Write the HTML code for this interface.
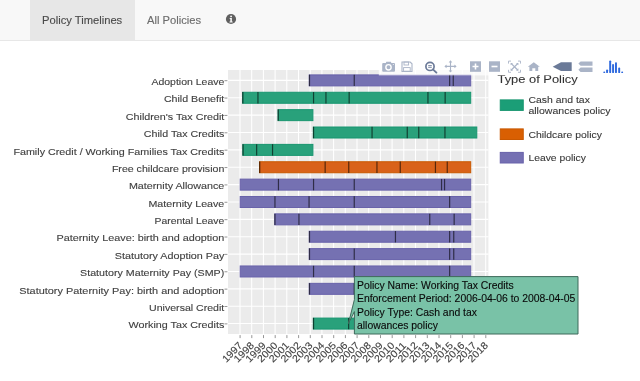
<!DOCTYPE html>
<html><head><meta charset="utf-8">
<style>
html,body{margin:0;padding:0;}
svg,.nav{will-change:transform;}
body{width:640px;height:381px;overflow:hidden;position:relative;background:#fff;font-family:"Liberation Sans",sans-serif;}
.nav{position:absolute;left:0;top:0;width:640px;height:40px;background:#f8f8f8;border-bottom:1px solid #e7e7e7;}
.tab{position:absolute;top:0;height:40px;line-height:40px;font-size:11.2px;color:#6c6c6c;white-space:nowrap;-webkit-text-stroke:0.12px #6c6c6c;}
.tab.active{background:#e7e7e7;color:#4a4a4a;-webkit-text-stroke:0.12px #4a4a4a;}
svg text{font-family:"Liberation Sans",sans-serif;}
.ax{font-size:9.8px;fill:#404040;stroke:#404040;stroke-width:0.12px;}
.lg{font-size:9.7px;fill:#383838;stroke:#383838;stroke-width:0.1px;}
.lt{font-size:11.6px;fill:#333;stroke:#333;stroke-width:0.08px;}
.ht{font-size:10.4px;fill:#0a0a0a;stroke:#0a0a0a;stroke-width:0.12px;}
</style></head><body>
<div class="nav">
  <div class="tab active" style="left:30px;width:105px;"><span style="position:absolute;left:12px;top:0;">Policy Timelines</span></div>
  <div class="tab" style="left:135px;width:78px;"><span style="position:absolute;left:12px;top:0;">All Policies</span></div>
  <div class="tab" style="left:213px;width:36px;">
    <svg width="12" height="12" viewBox="0 0 12 12" style="position:absolute;left:11.7px;top:12.7px">
      <circle cx="6" cy="6" r="5.1" fill="#606060"/>
      <circle cx="6.1" cy="3.4" r="0.95" fill="#f8f8f8"/>
      <path d="M4.7 5h2.2v3.4h0.8v1H4.5v-1h0.8V6H4.7z" fill="#f8f8f8"/>
    </svg>
  </div>
</div>
<svg width="640" height="381" style="position:absolute;left:0;top:0">
<rect x="228.0" y="70.0" width="260.40" height="264.0" fill="#ebebeb"/>
<line x1="240.00" y1="70.0" x2="240.00" y2="334.0" stroke="#fff" stroke-width="1.07"/>
<line x1="251.70" y1="70.0" x2="251.70" y2="334.0" stroke="#fff" stroke-width="1.07"/>
<line x1="263.40" y1="70.0" x2="263.40" y2="334.0" stroke="#fff" stroke-width="1.07"/>
<line x1="275.10" y1="70.0" x2="275.10" y2="334.0" stroke="#fff" stroke-width="1.07"/>
<line x1="286.80" y1="70.0" x2="286.80" y2="334.0" stroke="#fff" stroke-width="1.07"/>
<line x1="298.50" y1="70.0" x2="298.50" y2="334.0" stroke="#fff" stroke-width="1.07"/>
<line x1="310.20" y1="70.0" x2="310.20" y2="334.0" stroke="#fff" stroke-width="1.07"/>
<line x1="321.90" y1="70.0" x2="321.90" y2="334.0" stroke="#fff" stroke-width="1.07"/>
<line x1="333.60" y1="70.0" x2="333.60" y2="334.0" stroke="#fff" stroke-width="1.07"/>
<line x1="345.30" y1="70.0" x2="345.30" y2="334.0" stroke="#fff" stroke-width="1.07"/>
<line x1="357.00" y1="70.0" x2="357.00" y2="334.0" stroke="#fff" stroke-width="1.07"/>
<line x1="368.70" y1="70.0" x2="368.70" y2="334.0" stroke="#fff" stroke-width="1.07"/>
<line x1="380.40" y1="70.0" x2="380.40" y2="334.0" stroke="#fff" stroke-width="1.07"/>
<line x1="392.10" y1="70.0" x2="392.10" y2="334.0" stroke="#fff" stroke-width="1.07"/>
<line x1="403.80" y1="70.0" x2="403.80" y2="334.0" stroke="#fff" stroke-width="1.07"/>
<line x1="415.50" y1="70.0" x2="415.50" y2="334.0" stroke="#fff" stroke-width="1.07"/>
<line x1="427.20" y1="70.0" x2="427.20" y2="334.0" stroke="#fff" stroke-width="1.07"/>
<line x1="438.90" y1="70.0" x2="438.90" y2="334.0" stroke="#fff" stroke-width="1.07"/>
<line x1="450.60" y1="70.0" x2="450.60" y2="334.0" stroke="#fff" stroke-width="1.07"/>
<line x1="462.30" y1="70.0" x2="462.30" y2="334.0" stroke="#fff" stroke-width="1.07"/>
<line x1="474.00" y1="70.0" x2="474.00" y2="334.0" stroke="#fff" stroke-width="1.07"/>
<line x1="485.70" y1="70.0" x2="485.70" y2="334.0" stroke="#fff" stroke-width="1.07"/>
<line x1="228.0" y1="80.40" x2="488.4" y2="80.40" stroke="#fff" stroke-width="1.07"/>
<line x1="228.0" y1="97.77" x2="488.4" y2="97.77" stroke="#fff" stroke-width="1.07"/>
<line x1="228.0" y1="115.14" x2="488.4" y2="115.14" stroke="#fff" stroke-width="1.07"/>
<line x1="228.0" y1="132.51" x2="488.4" y2="132.51" stroke="#fff" stroke-width="1.07"/>
<line x1="228.0" y1="149.88" x2="488.4" y2="149.88" stroke="#fff" stroke-width="1.07"/>
<line x1="228.0" y1="167.25" x2="488.4" y2="167.25" stroke="#fff" stroke-width="1.07"/>
<line x1="228.0" y1="184.62" x2="488.4" y2="184.62" stroke="#fff" stroke-width="1.07"/>
<line x1="228.0" y1="201.99" x2="488.4" y2="201.99" stroke="#fff" stroke-width="1.07"/>
<line x1="228.0" y1="219.36" x2="488.4" y2="219.36" stroke="#fff" stroke-width="1.07"/>
<line x1="228.0" y1="236.73" x2="488.4" y2="236.73" stroke="#fff" stroke-width="1.07"/>
<line x1="228.0" y1="254.10" x2="488.4" y2="254.10" stroke="#fff" stroke-width="1.07"/>
<line x1="228.0" y1="271.47" x2="488.4" y2="271.47" stroke="#fff" stroke-width="1.07"/>
<line x1="228.0" y1="288.84" x2="488.4" y2="288.84" stroke="#fff" stroke-width="1.07"/>
<line x1="228.0" y1="306.21" x2="488.4" y2="306.21" stroke="#fff" stroke-width="1.07"/>
<line x1="228.0" y1="323.58" x2="488.4" y2="323.58" stroke="#fff" stroke-width="1.07"/>
<rect x="309.25" y="74.90" width="161.45" height="11.00" fill="#7571b2" stroke="#6862aa" stroke-width="1"/>
<line x1="309.50" y1="74.70" x2="309.50" y2="86.10" stroke="rgba(0,0,0,0.6)" stroke-width="1.2"/>
<line x1="354.25" y1="74.70" x2="354.25" y2="86.10" stroke="rgba(0,0,0,0.6)" stroke-width="1.2"/>
<line x1="449.65" y1="74.70" x2="449.65" y2="86.10" stroke="rgba(0,0,0,0.6)" stroke-width="1.2"/>
<line x1="453.25" y1="74.70" x2="453.25" y2="86.10" stroke="rgba(0,0,0,0.6)" stroke-width="1.2"/>
<rect x="242.60" y="92.27" width="228.10" height="11.00" fill="#29a17b" stroke="#189670" stroke-width="1"/>
<line x1="242.85" y1="92.07" x2="242.85" y2="103.47" stroke="rgba(0,0,0,0.6)" stroke-width="1.2"/>
<line x1="257.95" y1="92.07" x2="257.95" y2="103.47" stroke="rgba(0,0,0,0.6)" stroke-width="1.2"/>
<line x1="313.55" y1="92.07" x2="313.55" y2="103.47" stroke="rgba(0,0,0,0.6)" stroke-width="1.2"/>
<line x1="325.95" y1="92.07" x2="325.95" y2="103.47" stroke="rgba(0,0,0,0.6)" stroke-width="1.2"/>
<line x1="349.15" y1="92.07" x2="349.15" y2="103.47" stroke="rgba(0,0,0,0.6)" stroke-width="1.2"/>
<line x1="427.95" y1="92.07" x2="427.95" y2="103.47" stroke="rgba(0,0,0,0.6)" stroke-width="1.2"/>
<line x1="445.15" y1="92.07" x2="445.15" y2="103.47" stroke="rgba(0,0,0,0.6)" stroke-width="1.2"/>
<rect x="278.00" y="109.64" width="34.90" height="11.00" fill="#29a17b" stroke="#189670" stroke-width="1"/>
<line x1="278.25" y1="109.44" x2="278.25" y2="120.84" stroke="rgba(0,0,0,0.6)" stroke-width="1.2"/>
<rect x="313.30" y="127.01" width="163.50" height="11.00" fill="#29a17b" stroke="#189670" stroke-width="1"/>
<line x1="313.55" y1="126.81" x2="313.55" y2="138.21" stroke="rgba(0,0,0,0.6)" stroke-width="1.2"/>
<line x1="372.05" y1="126.81" x2="372.05" y2="138.21" stroke="rgba(0,0,0,0.6)" stroke-width="1.2"/>
<line x1="407.25" y1="126.81" x2="407.25" y2="138.21" stroke="rgba(0,0,0,0.6)" stroke-width="1.2"/>
<line x1="418.75" y1="126.81" x2="418.75" y2="138.21" stroke="rgba(0,0,0,0.6)" stroke-width="1.2"/>
<line x1="444.95" y1="126.81" x2="444.95" y2="138.21" stroke="rgba(0,0,0,0.6)" stroke-width="1.2"/>
<rect x="242.80" y="144.38" width="70.10" height="11.00" fill="#29a17b" stroke="#189670" stroke-width="1"/>
<line x1="243.05" y1="144.18" x2="243.05" y2="155.58" stroke="rgba(0,0,0,0.6)" stroke-width="1.2"/>
<line x1="256.65" y1="144.18" x2="256.65" y2="155.58" stroke="rgba(0,0,0,0.6)" stroke-width="1.2"/>
<line x1="272.55" y1="144.18" x2="272.55" y2="155.58" stroke="rgba(0,0,0,0.6)" stroke-width="1.2"/>
<rect x="259.50" y="161.75" width="211.20" height="11.00" fill="#d9621a" stroke="#c95800" stroke-width="1"/>
<line x1="259.75" y1="161.55" x2="259.75" y2="172.95" stroke="rgba(0,0,0,0.6)" stroke-width="1.2"/>
<line x1="325.15" y1="161.55" x2="325.15" y2="172.95" stroke="rgba(0,0,0,0.6)" stroke-width="1.2"/>
<line x1="348.75" y1="161.55" x2="348.75" y2="172.95" stroke="rgba(0,0,0,0.6)" stroke-width="1.2"/>
<line x1="376.95" y1="161.55" x2="376.95" y2="172.95" stroke="rgba(0,0,0,0.6)" stroke-width="1.2"/>
<line x1="400.25" y1="161.55" x2="400.25" y2="172.95" stroke="rgba(0,0,0,0.6)" stroke-width="1.2"/>
<line x1="435.45" y1="161.55" x2="435.45" y2="172.95" stroke="rgba(0,0,0,0.6)" stroke-width="1.2"/>
<line x1="447.25" y1="161.55" x2="447.25" y2="172.95" stroke="rgba(0,0,0,0.6)" stroke-width="1.2"/>
<rect x="240.20" y="179.12" width="230.50" height="11.00" fill="#7571b2" stroke="#6862aa" stroke-width="1"/>
<line x1="278.45" y1="178.92" x2="278.45" y2="190.32" stroke="rgba(0,0,0,0.6)" stroke-width="1.2"/>
<line x1="313.55" y1="178.92" x2="313.55" y2="190.32" stroke="rgba(0,0,0,0.6)" stroke-width="1.2"/>
<line x1="354.25" y1="178.92" x2="354.25" y2="190.32" stroke="rgba(0,0,0,0.6)" stroke-width="1.2"/>
<line x1="441.55" y1="178.92" x2="441.55" y2="190.32" stroke="rgba(0,0,0,0.6)" stroke-width="1.2"/>
<line x1="444.55" y1="178.92" x2="444.55" y2="190.32" stroke="rgba(0,0,0,0.6)" stroke-width="1.2"/>
<rect x="240.20" y="196.49" width="230.50" height="11.00" fill="#7571b2" stroke="#6862aa" stroke-width="1"/>
<line x1="274.95" y1="196.29" x2="274.95" y2="207.69" stroke="rgba(0,0,0,0.6)" stroke-width="1.2"/>
<line x1="309.05" y1="196.29" x2="309.05" y2="207.69" stroke="rgba(0,0,0,0.6)" stroke-width="1.2"/>
<line x1="354.25" y1="196.29" x2="354.25" y2="207.69" stroke="rgba(0,0,0,0.6)" stroke-width="1.2"/>
<line x1="449.65" y1="196.29" x2="449.65" y2="207.69" stroke="rgba(0,0,0,0.6)" stroke-width="1.2"/>
<rect x="274.70" y="213.86" width="196.00" height="11.00" fill="#7571b2" stroke="#6862aa" stroke-width="1"/>
<line x1="274.95" y1="213.66" x2="274.95" y2="225.06" stroke="rgba(0,0,0,0.6)" stroke-width="1.2"/>
<line x1="298.95" y1="213.66" x2="298.95" y2="225.06" stroke="rgba(0,0,0,0.6)" stroke-width="1.2"/>
<line x1="429.75" y1="213.66" x2="429.75" y2="225.06" stroke="rgba(0,0,0,0.6)" stroke-width="1.2"/>
<line x1="454.15" y1="213.66" x2="454.15" y2="225.06" stroke="rgba(0,0,0,0.6)" stroke-width="1.2"/>
<rect x="309.25" y="231.23" width="161.45" height="11.00" fill="#7571b2" stroke="#6862aa" stroke-width="1"/>
<line x1="309.50" y1="231.03" x2="309.50" y2="242.43" stroke="rgba(0,0,0,0.6)" stroke-width="1.2"/>
<line x1="395.45" y1="231.03" x2="395.45" y2="242.43" stroke="rgba(0,0,0,0.6)" stroke-width="1.2"/>
<line x1="449.65" y1="231.03" x2="449.65" y2="242.43" stroke="rgba(0,0,0,0.6)" stroke-width="1.2"/>
<line x1="453.75" y1="231.03" x2="453.75" y2="242.43" stroke="rgba(0,0,0,0.6)" stroke-width="1.2"/>
<rect x="309.25" y="248.60" width="161.45" height="11.00" fill="#7571b2" stroke="#6862aa" stroke-width="1"/>
<line x1="309.50" y1="248.40" x2="309.50" y2="259.80" stroke="rgba(0,0,0,0.6)" stroke-width="1.2"/>
<line x1="354.25" y1="248.40" x2="354.25" y2="259.80" stroke="rgba(0,0,0,0.6)" stroke-width="1.2"/>
<line x1="449.65" y1="248.40" x2="449.65" y2="259.80" stroke="rgba(0,0,0,0.6)" stroke-width="1.2"/>
<line x1="453.75" y1="248.40" x2="453.75" y2="259.80" stroke="rgba(0,0,0,0.6)" stroke-width="1.2"/>
<rect x="240.20" y="265.97" width="230.50" height="11.00" fill="#7571b2" stroke="#6862aa" stroke-width="1"/>
<line x1="313.55" y1="265.77" x2="313.55" y2="277.17" stroke="rgba(0,0,0,0.6)" stroke-width="1.2"/>
<line x1="354.25" y1="265.77" x2="354.25" y2="277.17" stroke="rgba(0,0,0,0.6)" stroke-width="1.2"/>
<line x1="449.65" y1="265.77" x2="449.65" y2="277.17" stroke="rgba(0,0,0,0.6)" stroke-width="1.2"/>
<rect x="309.25" y="283.34" width="161.45" height="11.00" fill="#7571b2" stroke="#6862aa" stroke-width="1"/>
<line x1="309.50" y1="283.14" x2="309.50" y2="294.54" stroke="rgba(0,0,0,0.6)" stroke-width="1.2"/>
<line x1="354.25" y1="283.14" x2="354.25" y2="294.54" stroke="rgba(0,0,0,0.6)" stroke-width="1.2"/>
<line x1="449.65" y1="283.14" x2="449.65" y2="294.54" stroke="rgba(0,0,0,0.6)" stroke-width="1.2"/>
<line x1="453.75" y1="283.14" x2="453.75" y2="294.54" stroke="rgba(0,0,0,0.6)" stroke-width="1.2"/>
<rect x="313.30" y="318.08" width="163.50" height="11.00" fill="#29a17b" stroke="#189670" stroke-width="1"/>
<line x1="313.55" y1="317.88" x2="313.55" y2="329.28" stroke="rgba(0,0,0,0.6)" stroke-width="1.2"/>
<line x1="348.65" y1="317.88" x2="348.65" y2="329.28" stroke="rgba(0,0,0,0.6)" stroke-width="1.2"/>
<line x1="224.5" y1="80.70" x2="227.4" y2="80.70" stroke="#8a8a8a" stroke-width="0.9"/>
<text x="224.3" y="85.10" text-anchor="end" textLength="72.9" lengthAdjust="spacingAndGlyphs" class="ax">Adoption Leave</text>
<line x1="224.5" y1="98.07" x2="227.4" y2="98.07" stroke="#8a8a8a" stroke-width="0.9"/>
<text x="224.3" y="102.47" text-anchor="end" textLength="60.4" lengthAdjust="spacingAndGlyphs" class="ax">Child Benefit</text>
<line x1="224.5" y1="115.44" x2="227.4" y2="115.44" stroke="#8a8a8a" stroke-width="0.9"/>
<text x="224.3" y="119.84" text-anchor="end" textLength="98.5" lengthAdjust="spacingAndGlyphs" class="ax">Children's Tax Credit</text>
<line x1="224.5" y1="132.81" x2="227.4" y2="132.81" stroke="#8a8a8a" stroke-width="0.9"/>
<text x="224.3" y="137.21" text-anchor="end" textLength="80.5" lengthAdjust="spacingAndGlyphs" class="ax">Child Tax Credits</text>
<line x1="224.5" y1="150.18" x2="227.4" y2="150.18" stroke="#8a8a8a" stroke-width="0.9"/>
<text x="224.3" y="154.58" text-anchor="end" textLength="210.9" lengthAdjust="spacingAndGlyphs" class="ax">Family Credit / Working Families Tax Credits</text>
<line x1="224.5" y1="167.55" x2="227.4" y2="167.55" stroke="#8a8a8a" stroke-width="0.9"/>
<text x="224.3" y="171.95" text-anchor="end" textLength="112.4" lengthAdjust="spacingAndGlyphs" class="ax">Free childcare provision</text>
<line x1="224.5" y1="184.92" x2="227.4" y2="184.92" stroke="#8a8a8a" stroke-width="0.9"/>
<text x="224.3" y="189.32" text-anchor="end" textLength="95.4" lengthAdjust="spacingAndGlyphs" class="ax">Maternity Allowance</text>
<line x1="224.5" y1="202.29" x2="227.4" y2="202.29" stroke="#8a8a8a" stroke-width="0.9"/>
<text x="224.3" y="206.69" text-anchor="end" textLength="75.8" lengthAdjust="spacingAndGlyphs" class="ax">Maternity Leave</text>
<line x1="224.5" y1="219.66" x2="227.4" y2="219.66" stroke="#8a8a8a" stroke-width="0.9"/>
<text x="224.3" y="224.06" text-anchor="end" textLength="69.8" lengthAdjust="spacingAndGlyphs" class="ax">Parental Leave</text>
<line x1="224.5" y1="237.03" x2="227.4" y2="237.03" stroke="#8a8a8a" stroke-width="0.9"/>
<text x="224.3" y="241.43" text-anchor="end" textLength="167.8" lengthAdjust="spacingAndGlyphs" class="ax">Paternity Leave: birth and adoption</text>
<line x1="224.5" y1="254.40" x2="227.4" y2="254.40" stroke="#8a8a8a" stroke-width="0.9"/>
<text x="224.3" y="258.80" text-anchor="end" textLength="109.5" lengthAdjust="spacingAndGlyphs" class="ax">Statutory Adoption Pay</text>
<line x1="224.5" y1="271.77" x2="227.4" y2="271.77" stroke="#8a8a8a" stroke-width="0.9"/>
<text x="224.3" y="276.17" text-anchor="end" textLength="144.2" lengthAdjust="spacingAndGlyphs" class="ax">Statutory Maternity Pay (SMP)</text>
<line x1="224.5" y1="289.14" x2="227.4" y2="289.14" stroke="#8a8a8a" stroke-width="0.9"/>
<text x="224.3" y="293.54" text-anchor="end" textLength="205.0" lengthAdjust="spacingAndGlyphs" class="ax">Statutory Paternity Pay: birth and adoption</text>
<line x1="224.5" y1="306.51" x2="227.4" y2="306.51" stroke="#8a8a8a" stroke-width="0.9"/>
<text x="224.3" y="310.91" text-anchor="end" textLength="75.2" lengthAdjust="spacingAndGlyphs" class="ax">Universal Credit</text>
<line x1="224.5" y1="323.88" x2="227.4" y2="323.88" stroke="#8a8a8a" stroke-width="0.9"/>
<text x="224.3" y="328.28" text-anchor="end" textLength="95.7" lengthAdjust="spacingAndGlyphs" class="ax">Working Tax Credits</text>
<line x1="240.10" y1="335.1" x2="240.10" y2="338.1" stroke="#8a8a8a" stroke-width="0.9"/>
<text x="243.00" y="346.10" text-anchor="end" transform="rotate(-45 243.00 346.10)" textLength="23.8" lengthAdjust="spacingAndGlyphs" class="ax" style="font-size:10px">1997</text>
<line x1="251.80" y1="335.1" x2="251.80" y2="338.1" stroke="#8a8a8a" stroke-width="0.9"/>
<text x="254.70" y="346.10" text-anchor="end" transform="rotate(-45 254.70 346.10)" textLength="23.8" lengthAdjust="spacingAndGlyphs" class="ax" style="font-size:10px">1998</text>
<line x1="263.50" y1="335.1" x2="263.50" y2="338.1" stroke="#8a8a8a" stroke-width="0.9"/>
<text x="266.40" y="346.10" text-anchor="end" transform="rotate(-45 266.40 346.10)" textLength="23.8" lengthAdjust="spacingAndGlyphs" class="ax" style="font-size:10px">1999</text>
<line x1="275.20" y1="335.1" x2="275.20" y2="338.1" stroke="#8a8a8a" stroke-width="0.9"/>
<text x="278.10" y="346.10" text-anchor="end" transform="rotate(-45 278.10 346.10)" textLength="23.8" lengthAdjust="spacingAndGlyphs" class="ax" style="font-size:10px">2000</text>
<line x1="286.90" y1="335.1" x2="286.90" y2="338.1" stroke="#8a8a8a" stroke-width="0.9"/>
<text x="289.80" y="346.10" text-anchor="end" transform="rotate(-45 289.80 346.10)" textLength="23.8" lengthAdjust="spacingAndGlyphs" class="ax" style="font-size:10px">2001</text>
<line x1="298.60" y1="335.1" x2="298.60" y2="338.1" stroke="#8a8a8a" stroke-width="0.9"/>
<text x="301.50" y="346.10" text-anchor="end" transform="rotate(-45 301.50 346.10)" textLength="23.8" lengthAdjust="spacingAndGlyphs" class="ax" style="font-size:10px">2002</text>
<line x1="310.30" y1="335.1" x2="310.30" y2="338.1" stroke="#8a8a8a" stroke-width="0.9"/>
<text x="313.20" y="346.10" text-anchor="end" transform="rotate(-45 313.20 346.10)" textLength="23.8" lengthAdjust="spacingAndGlyphs" class="ax" style="font-size:10px">2003</text>
<line x1="322.00" y1="335.1" x2="322.00" y2="338.1" stroke="#8a8a8a" stroke-width="0.9"/>
<text x="324.90" y="346.10" text-anchor="end" transform="rotate(-45 324.90 346.10)" textLength="23.8" lengthAdjust="spacingAndGlyphs" class="ax" style="font-size:10px">2004</text>
<line x1="333.70" y1="335.1" x2="333.70" y2="338.1" stroke="#8a8a8a" stroke-width="0.9"/>
<text x="336.60" y="346.10" text-anchor="end" transform="rotate(-45 336.60 346.10)" textLength="23.8" lengthAdjust="spacingAndGlyphs" class="ax" style="font-size:10px">2005</text>
<line x1="345.40" y1="335.1" x2="345.40" y2="338.1" stroke="#8a8a8a" stroke-width="0.9"/>
<text x="348.30" y="346.10" text-anchor="end" transform="rotate(-45 348.30 346.10)" textLength="23.8" lengthAdjust="spacingAndGlyphs" class="ax" style="font-size:10px">2006</text>
<line x1="357.10" y1="335.1" x2="357.10" y2="338.1" stroke="#8a8a8a" stroke-width="0.9"/>
<text x="360.00" y="346.10" text-anchor="end" transform="rotate(-45 360.00 346.10)" textLength="23.8" lengthAdjust="spacingAndGlyphs" class="ax" style="font-size:10px">2007</text>
<line x1="368.80" y1="335.1" x2="368.80" y2="338.1" stroke="#8a8a8a" stroke-width="0.9"/>
<text x="371.70" y="346.10" text-anchor="end" transform="rotate(-45 371.70 346.10)" textLength="23.8" lengthAdjust="spacingAndGlyphs" class="ax" style="font-size:10px">2008</text>
<line x1="380.50" y1="335.1" x2="380.50" y2="338.1" stroke="#8a8a8a" stroke-width="0.9"/>
<text x="383.40" y="346.10" text-anchor="end" transform="rotate(-45 383.40 346.10)" textLength="23.8" lengthAdjust="spacingAndGlyphs" class="ax" style="font-size:10px">2009</text>
<line x1="392.20" y1="335.1" x2="392.20" y2="338.1" stroke="#8a8a8a" stroke-width="0.9"/>
<text x="395.10" y="346.10" text-anchor="end" transform="rotate(-45 395.10 346.10)" textLength="23.8" lengthAdjust="spacingAndGlyphs" class="ax" style="font-size:10px">2010</text>
<line x1="403.90" y1="335.1" x2="403.90" y2="338.1" stroke="#8a8a8a" stroke-width="0.9"/>
<text x="406.80" y="346.10" text-anchor="end" transform="rotate(-45 406.80 346.10)" textLength="23.8" lengthAdjust="spacingAndGlyphs" class="ax" style="font-size:10px">2011</text>
<line x1="415.60" y1="335.1" x2="415.60" y2="338.1" stroke="#8a8a8a" stroke-width="0.9"/>
<text x="418.50" y="346.10" text-anchor="end" transform="rotate(-45 418.50 346.10)" textLength="23.8" lengthAdjust="spacingAndGlyphs" class="ax" style="font-size:10px">2012</text>
<line x1="427.30" y1="335.1" x2="427.30" y2="338.1" stroke="#8a8a8a" stroke-width="0.9"/>
<text x="430.20" y="346.10" text-anchor="end" transform="rotate(-45 430.20 346.10)" textLength="23.8" lengthAdjust="spacingAndGlyphs" class="ax" style="font-size:10px">2013</text>
<line x1="439.00" y1="335.1" x2="439.00" y2="338.1" stroke="#8a8a8a" stroke-width="0.9"/>
<text x="441.90" y="346.10" text-anchor="end" transform="rotate(-45 441.90 346.10)" textLength="23.8" lengthAdjust="spacingAndGlyphs" class="ax" style="font-size:10px">2014</text>
<line x1="450.70" y1="335.1" x2="450.70" y2="338.1" stroke="#8a8a8a" stroke-width="0.9"/>
<text x="453.60" y="346.10" text-anchor="end" transform="rotate(-45 453.60 346.10)" textLength="23.8" lengthAdjust="spacingAndGlyphs" class="ax" style="font-size:10px">2015</text>
<line x1="462.40" y1="335.1" x2="462.40" y2="338.1" stroke="#8a8a8a" stroke-width="0.9"/>
<text x="465.30" y="346.10" text-anchor="end" transform="rotate(-45 465.30 346.10)" textLength="23.8" lengthAdjust="spacingAndGlyphs" class="ax" style="font-size:10px">2016</text>
<line x1="474.10" y1="335.1" x2="474.10" y2="338.1" stroke="#8a8a8a" stroke-width="0.9"/>
<text x="477.00" y="346.10" text-anchor="end" transform="rotate(-45 477.00 346.10)" textLength="23.8" lengthAdjust="spacingAndGlyphs" class="ax" style="font-size:10px">2017</text>
<line x1="485.80" y1="335.1" x2="485.80" y2="338.1" stroke="#8a8a8a" stroke-width="0.9"/>
<text x="488.70" y="346.10" text-anchor="end" transform="rotate(-45 488.70 346.10)" textLength="23.8" lengthAdjust="spacingAndGlyphs" class="ax" style="font-size:10px">2018</text>
<text x="497.5" y="83.1" class="lt" textLength="80.2" lengthAdjust="spacingAndGlyphs">Type of Policy</text>
<rect x="500.25" y="99.9" width="23" height="10.5" fill="#1b9e77" stroke="#189670" stroke-width="1"/>
<text x="528.4" y="102.6" class="lg" textLength="61.5" lengthAdjust="spacingAndGlyphs">Cash and tax</text>
<text x="528.4" y="114.3" class="lg" textLength="82.2" lengthAdjust="spacingAndGlyphs">allowances policy</text>
<rect x="500.25" y="128.9" width="23" height="10.6" fill="#d95f02" stroke="#c95800" stroke-width="1"/>
<text x="528.4" y="137.8" class="lg" textLength="73.5" lengthAdjust="spacingAndGlyphs">Childcare policy</text>
<rect x="500.25" y="152.4" width="23" height="10.6" fill="#7570b3" stroke="#6862aa" stroke-width="1"/>
<text x="528.4" y="160.9" class="lg" textLength="57.6" lengthAdjust="spacingAndGlyphs">Leave policy</text>
<rect x="378.8" y="57" width="261.2" height="18.4" fill="rgba(255,255,255,0.75)"/>
<path d="M382.2 64q0-1 1-1h2.6l0.5-1.3h4.6l0.5 1.3h2.6q1 0 1 1v6.7q0 1-1 1h-10.8q-1 0-1-1z" fill="#aab4c7"/>
<circle cx="388.5" cy="67.3" r="2.65" fill="none" stroke="#fff" stroke-width="1.4"/>
<circle cx="393.3" cy="64.6" r="0.5" fill="#fff"/>
<path d="M402 62h8.2l1.8 1.8v7.7h-10z" fill="none" stroke="#aab4c7" stroke-width="1.1"/>
<rect x="404" y="62" width="4.6" height="3" fill="none" stroke="#aab4c7" stroke-width="0.9"/>
<rect x="403.6" y="67.6" width="6.6" height="3.6" fill="none" stroke="#aab4c7" stroke-width="0.9"/>
<circle cx="430" cy="66.4" r="4.1" fill="none" stroke="#6b7a98" stroke-width="1.7"/>
<path d="M433 69.4l3.4 3.2" stroke="#6b7a98" stroke-width="1.9" stroke-linecap="round"/>
<path d="M428.2 65.6h3.6M428.2 67.3h3.6" stroke="#6b7a98" stroke-width="0.9"/>
<path d="M450.5 61v11M445 66.4h11" stroke="#aab4c7" stroke-width="1.1"/>
<path d="M450.5 60.2l-1.8 2.2h3.6zM450.5 72.6l-1.8-2.2h3.6zM444.4 66.4l2.2-1.8v3.6zM456.6 66.4l-2.2-1.8v3.6z" fill="#aab4c7"/>
<rect x="470" y="61.3" width="11" height="10.5" fill="#aab4c7"/>
<path d="M475.5 63.5v6M472.5 66.5h6" stroke="#fff" stroke-width="1.6"/>
<rect x="489" y="61.3" width="11" height="10.5" fill="#aab4c7"/>
<path d="M491.5 66.5h6" stroke="#fff" stroke-width="1.6"/>
<path d="M508.5 63.6v-2.5h2.5M518 61.1h2.5v2.5M520.5 69.8v2.5h-2.5M511 72.3h-2.5v-2.5" fill="none" stroke="#aab4c7" stroke-width="0.9"/>
<path d="M511.3 63.6l6.4 6.4M517.7 63.6l-6.4 6.4" stroke="#aab4c7" stroke-width="1.3"/><path d="M510.6 62.9h2.4l-2.4 2.4zM518.4 62.9h-2.4l2.4 2.4zM510.6 70.7h2.4l-2.4-2.4zM518.4 70.7h-2.4l2.4-2.4z" fill="#aab4c7"/>
<path d="M527.8 66.8l6-4.6 6 4.6h-1.6v4.1h-2.9v-2.7h-3v2.7h-2.9v-4.1z" fill="#aab4c7"/>
<path d="M552.7 66.65l8.3-4.45h10.7v8.9h-10.7z" fill="#6b7a98"/>
<path d="M580.6 61.4h11.9v4.4h-11.9l-2.2-2.2zM580.6 67.6h11.9v4.3h-11.9l-2.2-2.15z" fill="#aab4c7"/>
<rect x="603.3" y="71.4" width="1.95" height="1.70" rx="0.9" fill="#2f6ade"/>
<rect x="606.1" y="69.4" width="1.95" height="3.70" rx="0.9" fill="#2f6ade"/>
<rect x="609.2" y="60.4" width="1.95" height="12.70" rx="0.9" fill="#2f6ade"/>
<rect x="612.1" y="64.1" width="1.95" height="9.00" rx="0.9" fill="#2f6ade"/>
<rect x="615.0" y="62.3" width="1.95" height="10.80" rx="0.9" fill="#2f6ade"/>
<rect x="618.2" y="67.6" width="1.95" height="5.50" rx="0.9" fill="#2f6ade"/>
<rect x="621.2" y="71.4" width="1.95" height="1.70" rx="0.9" fill="#2f6ade"/>
<path d="M348.4,323.6L354.4,311.6V334.0H578.0V276.6H354.4V299.6Z" fill="#79c2a7" stroke="#3f6a5b" stroke-width="1"/>
<text class="ht" x="357" y="288.5">Policy Name: Working Tax Credits</text>
<text class="ht" x="357" y="302">Enforcement Period: 2006-04-06 to 2008-04-05</text>
<text class="ht" x="357" y="315.5">Policy Type: Cash and tax</text>
<text class="ht" x="357" y="329.1">allowances policy</text>
</svg>
</body></html>
